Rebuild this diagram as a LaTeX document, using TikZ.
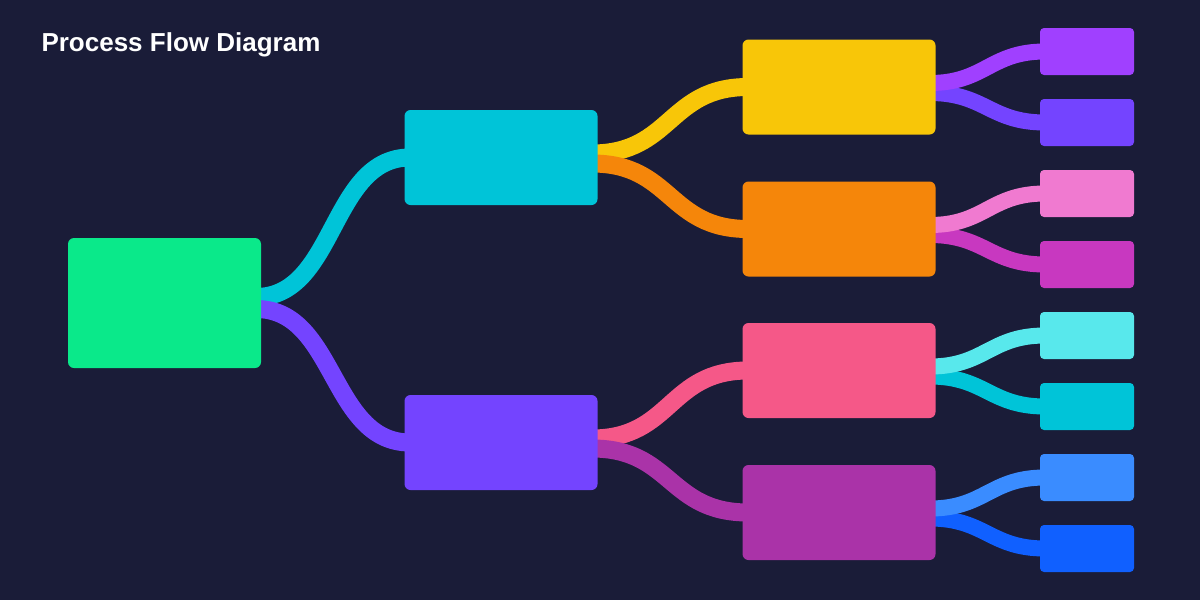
\documentclass[tikz,border=0pt]{standalone}
\usepackage{fontspec}
\setmainfont{Liberation Sans}
\usetikzlibrary{calc}
\definecolor{bg}{HTML}{1A1C38}
\definecolor{cgreen}{HTML}{0AE98A}
\definecolor{ccyan}{HTML}{00C4D8}
\definecolor{cpurple}{HTML}{7444FF}
\definecolor{cyellow}{HTML}{F8C608}
\definecolor{corange}{HTML}{F5860A}
\definecolor{cpink}{HTML}{F55888}
\definecolor{cmag}{HTML}{AA33A8}
\definecolor{lA}{HTML}{A040FF}
\definecolor{lB}{HTML}{7444FF}
\definecolor{lC}{HTML}{F07AD0}
\definecolor{lD}{HTML}{C838C0}
\definecolor{lE}{HTML}{58E8EC}
\definecolor{lF}{HTML}{00C4D8}
\definecolor{lG}{HTML}{3A8CFF}
\definecolor{lH}{HTML}{1060FF}
\begin{document}
\begin{tikzpicture}[x=1pt,y=-1pt,
  box/.style={rounded corners=6pt,inner sep=0pt,minimum width=193pt,minimum height=95pt},
  big/.style={box,minimum height=130pt},
  leaf/.style={rounded corners=4pt,inner sep=0pt,minimum width=94pt,minimum height=47pt},
  flow/.style={line width=18pt,line cap=butt},
  thin/.style={line width=16pt,line cap=butt}]
\fill[bg] (0,0) rectangle (1200,600);
\useasboundingbox (0,0) rectangle (1200,600);
\node[anchor=west,text=white,font=\bfseries\fontsize{26}{30}\selectfont] (title) at (38,45) {Process Flow Diagram};
% nodes positions (coordinates for connectors)
\coordinate (gE) at (261,303);
\coordinate (cW) at (405,157.5); \coordinate (cE) at (597,157.5);
\coordinate (pW) at (405,442.5); \coordinate (pE) at (597,442.5);
\coordinate (yW) at (743,87); \coordinate (yE) at (935,87);
\coordinate (oW) at (743,229); \coordinate (oE) at (935,229);
\coordinate (kW) at (743,370.5); \coordinate (kE) at (935,370.5);
\coordinate (mW) at (743,512.5); \coordinate (mE) at (935,512.5);
\coordinate (l1) at (1040,51.5); \coordinate (l2) at (1040,122.5);
\coordinate (l3) at (1040,193.5); \coordinate (l4) at (1040,264.5);
\coordinate (l5) at (1040,335.5); \coordinate (l6) at (1040,406.5);
\coordinate (l7) at (1040,477.5); \coordinate (l8) at (1040,548.5);
% connectors
\draw[flow,ccyan] ($(gE)+(-5,-6)$) .. controls +(80,0) and +(-80,0) .. ($(cW)+(5,0)$);
\draw[flow,cpurple] ($(gE)+(-5,6)$) .. controls +(80,0) and +(-80,0) .. ($(pW)+(5,0)$);
\draw[flow,cyellow] ($(cE)+(-5,-4)$) .. controls +(80,0) and +(-80,0) .. ($(yW)+(5,0)$);
\draw[flow,corange] ($(cE)+(-5,6)$) .. controls +(80,0) and +(-80,0) .. ($(oW)+(5,0)$);
\draw[flow,cpink] ($(pE)+(-5,-4)$) .. controls +(80,0) and +(-80,0) .. ($(kW)+(5,0)$);
\draw[flow,cmag] ($(pE)+(-5,6)$) .. controls +(80,0) and +(-80,0) .. ($(mW)+(5,0)$);
\foreach \p/\a/\b/\ca/\cb in {yE/l1/l2/lA/lB, oE/l3/l4/lC/lD, kE/l5/l6/lE/lF, mE/l7/l8/lG/lH}{
  \draw[thin,\cb] ($(\p)+(-5,6)$) .. controls +(55,0) and +(-55,0) .. ($(\b)+(5,0)$);
  \draw[thin,\ca] ($(\p)+(-5,-4)$) .. controls +(55,0) and +(-55,0) .. ($(\a)+(5,0)$);
}
% boxes
\node[big,fill=cgreen] (green) at (164.5,303) {};
\node[box,fill=ccyan] (cyan) at (501,157.5) {};
\node[box,fill=cpurple] (purple) at (501,442.5) {};
\node[box,fill=cyellow] (yellow) at (839,87) {};
\node[box,fill=corange] (orange) at (839,229) {};
\node[box,fill=cpink] (pink) at (839,370.5) {};
\node[box,fill=cmag] (mag) at (839,512.5) {};
\node[leaf,fill=lA] (L1) at (1087,51.5) {};
\node[leaf,fill=lB] (L2) at (1087,122.5) {};
\node[leaf,fill=lC] (L3) at (1087,193.5) {};
\node[leaf,fill=lD] (L4) at (1087,264.5) {};
\node[leaf,fill=lE] (L5) at (1087,335.5) {};
\node[leaf,fill=lF] (L6) at (1087,406.5) {};
\node[leaf,fill=lG] (L7) at (1087,477.5) {};
\node[leaf,fill=lH] (L8) at (1087,548.5) {};
\end{tikzpicture}
\end{document}
